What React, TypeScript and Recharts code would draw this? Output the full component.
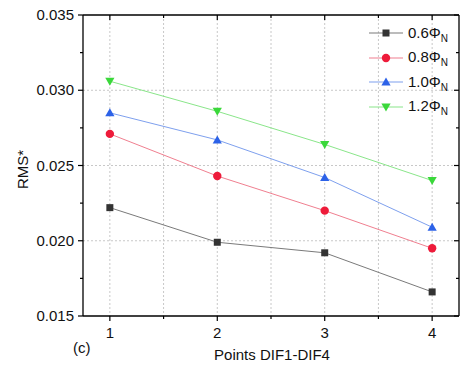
import React from 'react';
import { LineChart, Line, XAxis, YAxis, CartesianGrid } from 'recharts';

const points = [1, 2, 3, 4];
const s06 = [0.0222, 0.0199, 0.0192, 0.0166];
const s08 = [0.0271, 0.0243, 0.0220, 0.0195];
const s10 = [0.0285, 0.0267, 0.0242, 0.0209];
const s12 = [0.0306, 0.0286, 0.0264, 0.0240];
const seriesLabels = ['0.6', '0.8', '1.0', '1.2'];
const xTicks = [1, 1.5, 2, 2.5, 3, 3.5, 4];
const xLabelTicks = [1, 2, 3, 4];
const yTicks = [0.015, 0.0175, 0.02, 0.0225, 0.025, 0.0275, 0.03, 0.0325, 0.035];
const yLabelTicks = [0.015, 0.02, 0.025, 0.03, 0.035];
const gridY = [0.02, 0.025, 0.03];

const data = points.map((p, i) => ({ x: p, a: s06[i], b: s08[i], c: s10[i], d: s12[i] }));

const FONT = 'Liberation Sans, Arial, sans-serif';
const markerColors = ['#333333', '#ee1b3a', '#2c62e8', '#3ad83a'];
const lineColors = ['#7a7a7a', '#f07f90', '#7ea0ee', '#8ae68a'];
const keys = ['a', 'b', 'c', 'd'];

const isMajor = (v: number, arr: number[]) => arr.some((m) => Math.abs(m - v) < 1e-9);

const Marker = ({ kind, cx, cy, color }: any) => {
  if (cx == null || cy == null) return null;
  if (kind === 0) return <rect x={cx - 3.5} y={cy - 3.5} width={7} height={7} fill={color} />;
  if (kind === 1) return <circle cx={cx} cy={cy} r={4.2} fill={color} />;
  if (kind === 2)
    return <polygon points={`${cx},${cy - 4.5} ${cx + 4.6},${cy + 3.5} ${cx - 4.6},${cy + 3.5}`} fill={color} />;
  return <polygon points={`${cx},${cy + 4.5} ${cx + 4.6},${cy - 3.5} ${cx - 4.6},${cy - 3.5}`} fill={color} />;
};

const BottomTick = (props: any) => {
  const { x, y, payload } = props;
  const major = isMajor(payload.value, xLabelTicks);
  return (
    <g>
      <line x1={x} x2={x} y1={y} y2={y + (major ? 5 : 3)} stroke="#000" strokeWidth={1.2} />
      {major && (
        <text x={x} y={y + 22} textAnchor="middle" fontSize={15} fontFamily={FONT} fill="#111">
          {payload.value}
        </text>
      )}
    </g>
  );
};

const TopTick = (props: any) => {
  const { x, y, payload } = props;
  const major = isMajor(payload.value, xLabelTicks);
  return <line x1={x} x2={x} y1={y} y2={y + (major ? 5 : 3)} stroke="#000" strokeWidth={1.2} />;
};

const LeftTick = (props: any) => {
  const { x, y, payload } = props;
  const major = isMajor(payload.value, yLabelTicks);
  return (
    <g>
      <line x1={x} x2={x - (major ? 5 : 3)} y1={y} y2={y} stroke="#000" strokeWidth={1.2} />
      {major && (
        <text x={x - 9} y={y + 5} textAnchor="end" fontSize={15} fontFamily={FONT} fill="#111">
          {payload.value.toFixed(3)}
        </text>
      )}
    </g>
  );
};

const RightTick = (props: any) => {
  const { x, y, payload } = props;
  const major = isMajor(payload.value, yLabelTicks);
  return <line x1={x} x2={x - (major ? 5 : 3)} y1={y} y2={y} stroke="#000" strokeWidth={1.2} />;
};

const LegendBox = () => (
  <div style={{ position: 'absolute', top: 21, left: 368, width: 100, fontFamily: FONT }}>
    {seriesLabels.map((lab, i) => (
      <div key={lab} style={{ display: 'flex', alignItems: 'center', height: 24.5 }}>
        <svg width={36} height={12} style={{ display: 'block' }}>
          <line x1={1} x2={35} y1={6} y2={6} stroke={lineColors[i]} strokeWidth={1.2} />
          <Marker kind={i} cx={18} cy={6} color={markerColors[i]} />
        </svg>
        <span style={{ marginLeft: 4, fontSize: 15, color: '#111', lineHeight: '15px', whiteSpace: 'nowrap' }}>
          {lab}Φ
          <span style={{ fontSize: 10, position: 'relative', top: 4 }}>N</span>
        </span>
      </div>
    ))}
  </div>
);

export default function App() {
  return (
    <div style={{ position: 'absolute', left: 0, top: 0, width: 474, height: 369, background: '#fff' }}>
      <LineChart width={474} height={369} data={data} margin={{ top: 0, right: 0, bottom: 0, left: 0 }}>
        <CartesianGrid
          stroke="#c8c8c8"
          strokeDasharray="2 2"
          horizontalValues={gridY}
          verticalValues={xTicks}
        />
        <XAxis
          dataKey="x"
          type="number"
          domain={[0.75, 4.25]}
          ticks={xTicks}
          interval={0}
          height={53}
          tickSize={0}
          tickMargin={0}
          tickLine={false}
          tick={<BottomTick />}
          axisLine={{ stroke: '#000', strokeWidth: 1.3 }}
          allowDataOverflow
          label={(p: any) => {
            const vb = p.viewBox || {};
            return (
              <g>
                <text x={vb.x + vb.width / 2 + 1} y={vb.y + 44} textAnchor="middle" fontSize={15} fontFamily={FONT} fill="#111">
                  Points DIF1-DIF4
                </text>
                <text x={vb.x - 10} y={vb.y + 37} textAnchor="start" fontSize={15} fontFamily={FONT} fill="#111">
                  (c)
                </text>
              </g>
            );
          }}
        />
        <XAxis
          xAxisId="top"
          orientation="top"
          dataKey="x"
          type="number"
          domain={[0.75, 4.25]}
          ticks={xTicks}
          interval={0}
          height={15}
          tickSize={0}
          tickMargin={0}
          tickLine={false}
          tick={<TopTick />}
          axisLine={{ stroke: '#000', strokeWidth: 1.3 }}
          allowDataOverflow
        />
        <YAxis
          type="number"
          domain={[0.015, 0.035]}
          ticks={yTicks}
          interval={0}
          width={83}
          tickSize={0}
          tickMargin={0}
          tickLine={false}
          tick={<LeftTick />}
          axisLine={{ stroke: '#000', strokeWidth: 1.3 }}
          allowDataOverflow
          label={(p: any) => {
            const vb = p.viewBox || {};
            const cx = vb.x + 22;
            const cy = vb.y + vb.height / 2 + 4;
            return (
              <text x={cx} y={cy} transform={`rotate(-90 ${cx} ${cy})`} textAnchor="middle" dominantBaseline="central" fontSize={15} fontFamily={FONT} fill="#111">
                RMS*
              </text>
            );
          }}
        />
        <YAxis
          yAxisId="right"
          orientation="right"
          type="number"
          domain={[0.015, 0.035]}
          ticks={yTicks}
          interval={0}
          width={15}
          tickSize={0}
          tickMargin={0}
          tickLine={false}
          tick={<RightTick />}
          axisLine={{ stroke: '#000', strokeWidth: 1.3 }}
          allowDataOverflow
        />
        {keys.map((k, i) => (
          <Line
            key={k}
            dataKey={k}
            name={`${seriesLabels[i]}ΦN`}
            stroke={lineColors[i]}
            strokeWidth={1}
            isAnimationActive={false}
            dot={(p: any) => <Marker key={`${k}-${p.index}`} kind={i} cx={p.cx} cy={p.cy} color={markerColors[i]} />}
            activeDot={false}
          />
        ))}
      </LineChart>
      <LegendBox />
    </div>
  );
}
